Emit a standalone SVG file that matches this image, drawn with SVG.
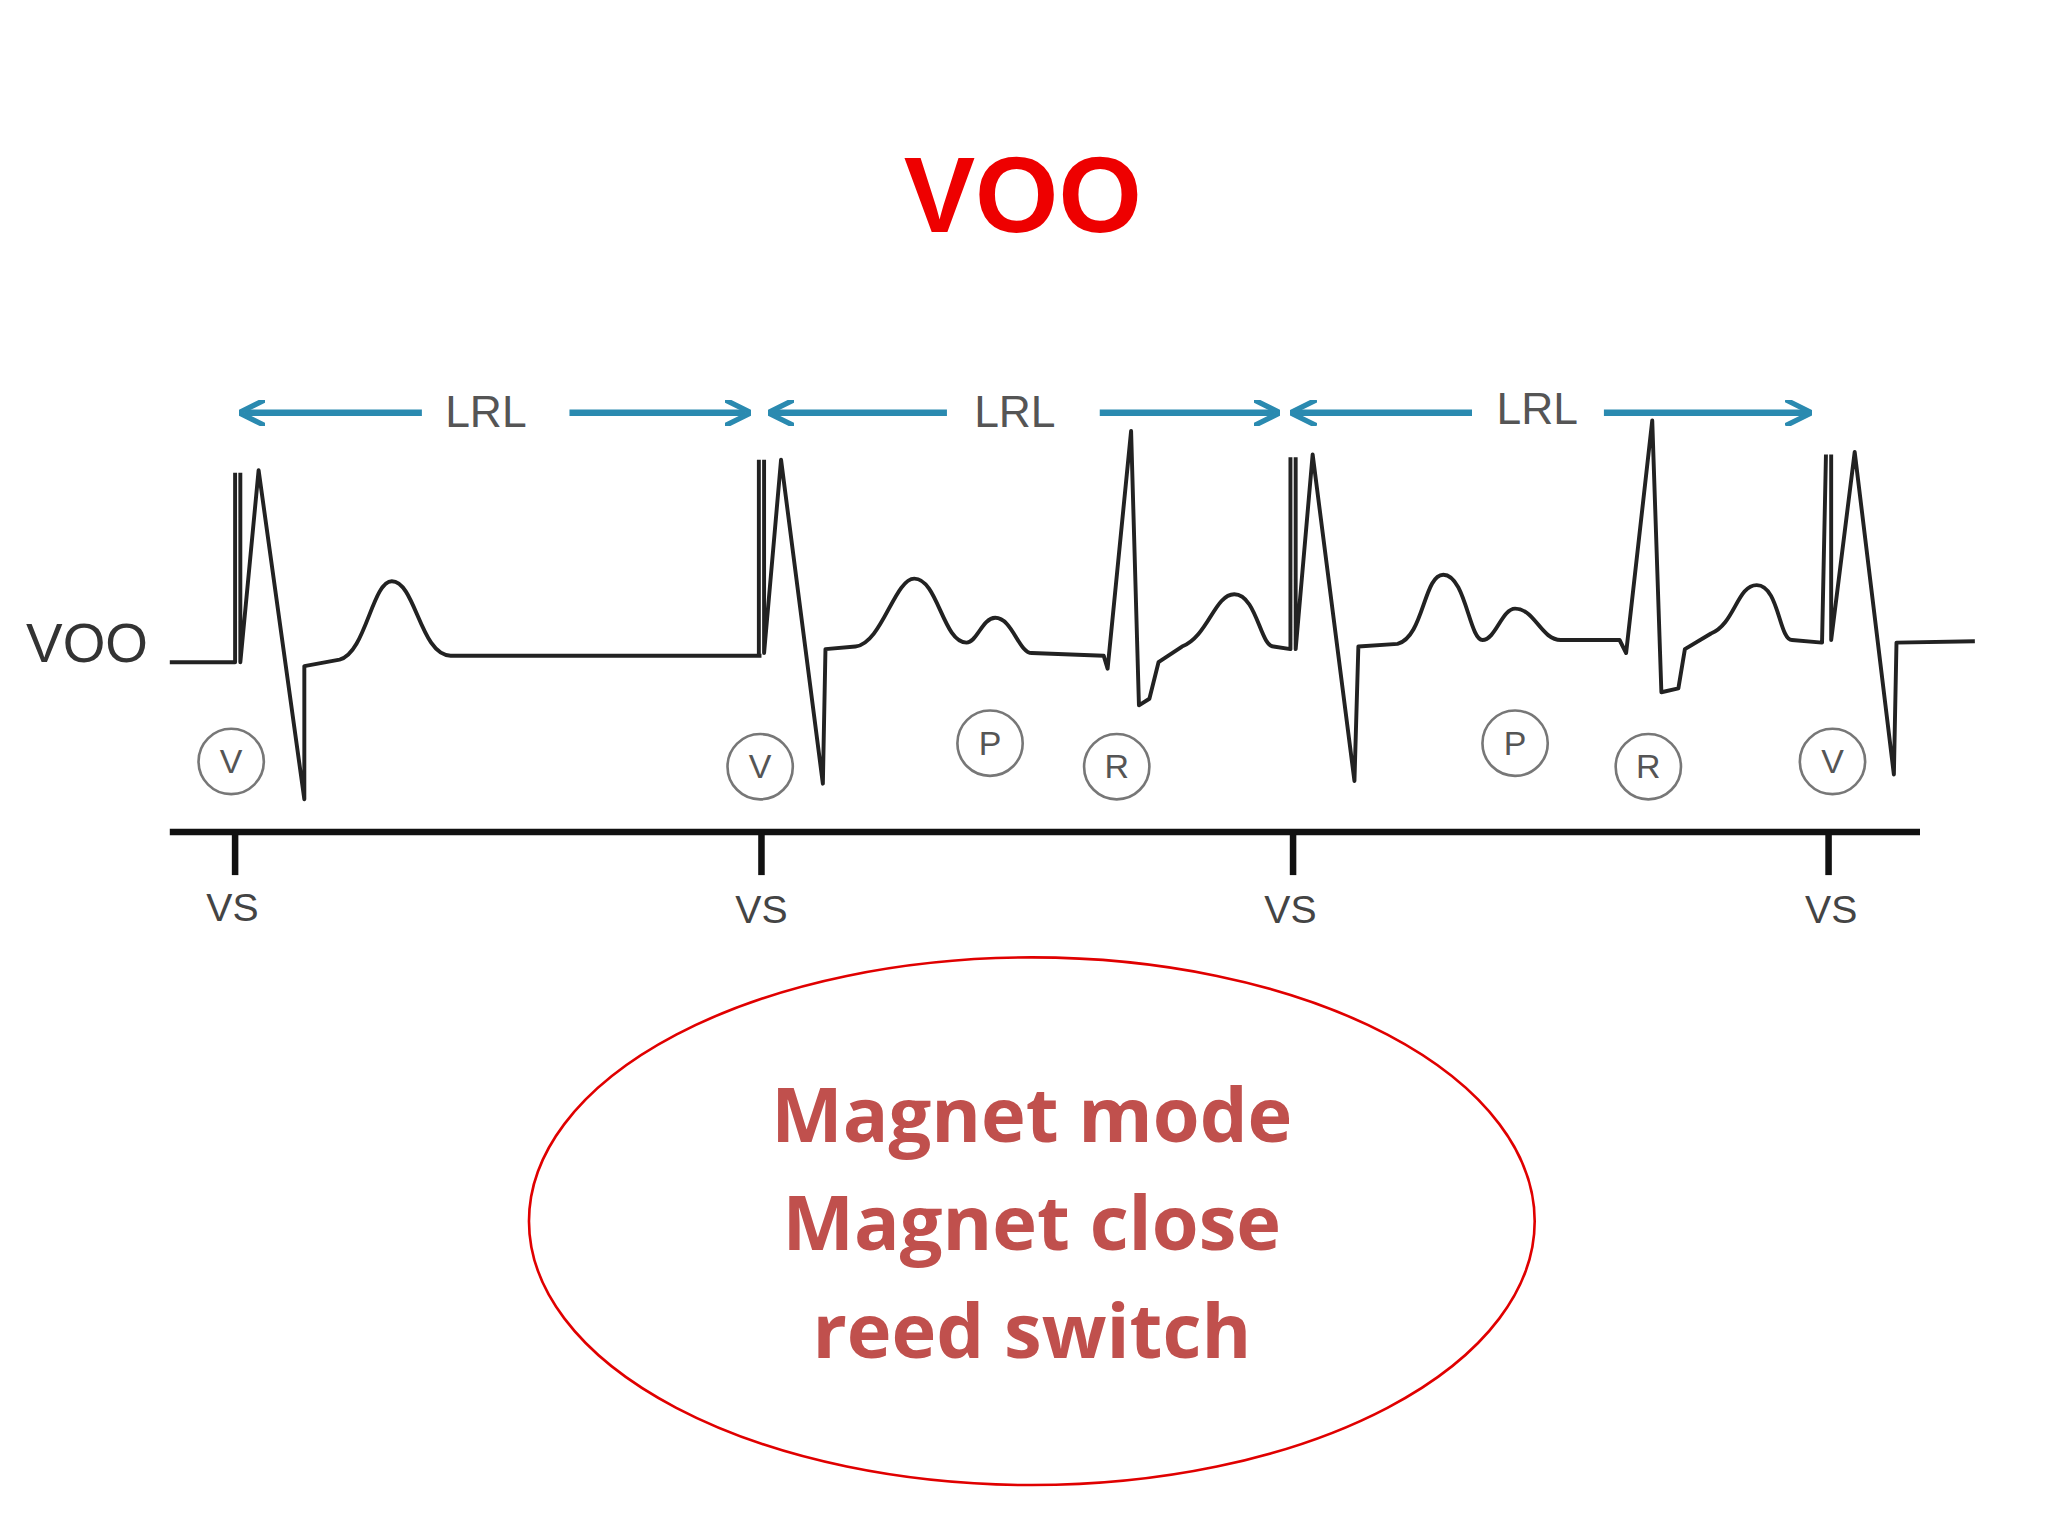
<svg xmlns="http://www.w3.org/2000/svg" width="2048" height="1536" viewBox="0 0 2048 1536">
<defs>
<style>
.arr{stroke:#2a8ab0;stroke-width:5;fill:none}
.lrl{font-family:"Liberation Sans",Arial,sans-serif;font-size:34px;fill:#555;text-anchor:middle}
.vs{font-family:"Liberation Sans",Arial,sans-serif;font-size:30px;fill:#444;text-anchor:middle}
.cl{font-family:"Liberation Sans",Arial,sans-serif;font-size:26px;fill:#555;text-anchor:middle}
.circ{fill:#fff;stroke:#777;stroke-width:2}
.mag{font-family:"Open Sans","Liberation Sans",sans-serif;font-weight:bold;font-size:58px;fill:#c0504d;text-anchor:middle}
</style>
<marker id="ah" viewBox="0 0 10 10" refX="8" refY="5" markerWidth="4" markerHeight="4" orient="auto-start-reverse"><path d="M0,0 L10,5 L0,10" fill="none" stroke="#2a8ab0" stroke-width="2"/></marker>
</defs>
<rect width="2048" height="1536" fill="#fff"/>
<g transform="scale(1.30612)">
<text x="783" y="178" font-family="Liberation Sans,Arial,sans-serif" font-weight="bold" font-size="82" fill="#ee0000" text-anchor="middle">VOO</text>
<g id="arrows">
<path class="arr" d="M323,316 L187,316" marker-end="url(#ah)"/>
<path class="arr" d="M436,316 L571,316" marker-end="url(#ah)"/>
<path class="arr" d="M725,316 L592,316" marker-end="url(#ah)"/>
<path class="arr" d="M842,316 L976,316" marker-end="url(#ah)"/>
<path class="arr" d="M1127,316 L992,316" marker-end="url(#ah)"/>
<path class="arr" d="M1228,316 L1383,316" marker-end="url(#ah)"/>
<text class="lrl" x="372" y="327">LRL</text>
<text class="lrl" x="777" y="327">LRL</text>
<text class="lrl" x="1177" y="325">LRL</text>
</g>
<text x="20" y="507" font-family="Liberation Sans,Arial,sans-serif" font-size="42" fill="#333">VOO</text>
<g id="trace" fill="none" stroke="#222" stroke-width="3" stroke-linejoin="round">
<path d="M130,507 L180,507 L180,362 M184,362 L184,507 L198,360 L233,612 L233,510 L260,505 C280,500 285,445 300,445 C318,445 322,502 345,502 L583,502"/>
<path d="M581,502 L581,352 M585,352 L585,500 L598,352 L630,600 L632,497 L655,495 C675,493 685,443 700,443 C718,443 722,492 740,492 C748,492 752,473 762,473 C775,473 780,500 790,500 L845,502 L848,512 L866,330 L872,540 L880,535 L887,507 L905,495 C925,487 930,455 945,455 C962,455 965,495 975,495 L988,497 L988,350 M992,350 L992,497 L1005,348 L1037,598 L1040,495 L1070,493 C1090,488 1090,440 1105,440 C1122,440 1125,490 1135,490 C1145,490 1150,466 1160,466 C1175,466 1180,490 1195,490 L1240,490 L1245,500 L1265,322 L1272,530 L1285,527 L1290,497 L1310,485 C1328,478 1330,448 1345,448 C1362,448 1362,490 1372,490 L1395,492 L1398,348 M1402,348 L1402,490 L1420,346 L1450,593 L1452,492 L1512,491"/>
</g>
<g id="markers">
<circle class="circ" cx="177" cy="583" r="25"/><text class="cl" x="177" y="592">V</text>
<circle class="circ" cx="582" cy="587" r="25"/><text class="cl" x="582" y="596">V</text>
<circle class="circ" cx="758" cy="569" r="25"/><text class="cl" x="758" y="578">P</text>
<circle class="circ" cx="855" cy="587" r="25"/><text class="cl" x="855" y="596">R</text>
<circle class="circ" cx="1160" cy="569" r="25"/><text class="cl" x="1160" y="578">P</text>
<circle class="circ" cx="1262" cy="587" r="25"/><text class="cl" x="1262" y="596">R</text>
<circle class="circ" cx="1403" cy="583" r="25"/><text class="cl" x="1403" y="592">V</text>
</g>
<g id="axis" stroke="#111" stroke-width="5">
<line x1="130" y1="637" x2="1470" y2="637"/>
<line x1="180" y1="637" x2="180" y2="670"/>
<line x1="583" y1="637" x2="583" y2="670"/>
<line x1="990" y1="637" x2="990" y2="670"/>
<line x1="1400" y1="637" x2="1400" y2="670"/>
</g>
<text class="vs" x="178" y="705">VS</text>
<text class="vs" x="583" y="707">VS</text>
<text class="vs" x="988" y="707">VS</text>
<text class="vs" x="1402" y="707">VS</text>
<g id="magnet">
<ellipse cx="790" cy="935" rx="385" ry="202" fill="none" stroke="#e00000" stroke-width="2"/>
<text class="mag" x="790" y="874">Magnet mode</text>
<text class="mag" x="790" y="957">Magnet close</text>
<text class="mag" x="790" y="1040">reed switch</text>
</g>
</g>
</svg>
